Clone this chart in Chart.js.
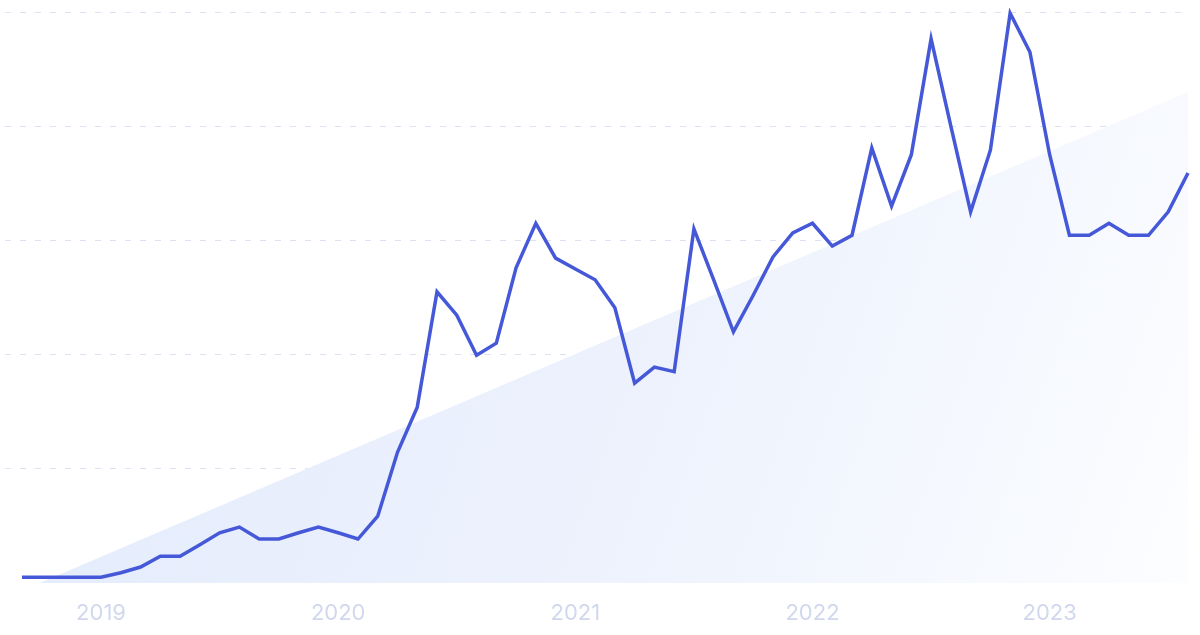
<!DOCTYPE html>
<html>
<head>
<meta charset="utf-8">
<script src="https://cdn.jsdelivr.net/npm/chart.js@4.4.1/dist/chart.umd.min.js"></script>
<style>
  html, body { margin: 0; padding: 0; background: #ffffff; }
  #wrap { width: 1200px; height: 635px; position: relative; }
</style>
</head>
<body>
<div id="wrap"><canvas id="c" width="1200" height="635"></canvas></div>
<script>
// Monthly series, Sep 2018 .. Aug 2023 (index 0 = Sep 2018)
const values = [
  1, 1, 1, 1, 1, 1.8, 2.8, 4.7, 4.7, 6.7,
  8.8, 9.8, 7.7, 7.7, 8.8, 9.8, 8.8, 7.7, 11.7, 22.9,
  30.8, 51.0, 46.9, 39.9, 42.0, 55.2, 63.0, 56.9, 55.0, 53.1,
  48.2, 35.0, 37.8, 37.0, 62.0, 53.1, 44.0, 50.4, 57.1, 61.3,
  63.0, 59.0, 60.9, 76.2, 66.0, 75.0, 95.3, 80.0, 65.0, 75.8,
  99.8, 93.0, 75.0, 60.9, 60.9, 63.0, 60.9, 60.9, 65.0, 71.8
];
// Year tick labels and their month index (January of each year)
const yearLabels = ['2019', '2020', '2021', '2022', '2023'];
const yearIndex = [4, 16, 28, 40, 52];
// Background trend wedge (start/end index and value)
const trendX = [0.9, 59];
const trendY = [0, 86];

const lineData = values.map((v, i) => ({ x: i, y: v }));
const trendData = trendX.map((x, i) => ({ x: x, y: trendY[i] }));

const ctx = document.getElementById('c').getContext('2d');
new Chart(ctx, {
  type: 'line',
  data: {
    datasets: [
      {
        data: lineData,
        borderColor: '#4559d8',
        borderWidth: 3.5,
        pointRadius: 0,
        tension: 0,
        fill: false,
        clip: false,
        borderJoinStyle: 'miter',
        order: 0
      },
      {
        data: trendData,
        borderWidth: 0,
        borderColor: 'rgba(0,0,0,0)',
        pointRadius: 0,
        fill: 'origin',
        order: 1,
        backgroundColor: (c) => {
          const a = c.chart.chartArea;
          if (!a) return 'rgba(230,237,251,1)';
          const g = c.chart.ctx.createLinearGradient(a.left, a.top + 150, a.right, a.bottom);
          g.addColorStop(0, 'rgba(226,234,251,1)');
          g.addColorStop(0.55, 'rgba(237,242,253,1)');
          g.addColorStop(1, 'rgba(252,253,255,1)');
          return g;
        }
      }
    ]
  },
  options: {
    responsive: false,
    animation: false,
    layout: { padding: { left: 5, right: 12, top: 12, bottom: 0 } },
    plugins: { legend: { display: false }, tooltip: { enabled: false } },
    scales: {
      x: {
        type: 'linear',
        min: -0.86,
        max: 59,
        grid: { display: false },
        border: { display: false },
        afterBuildTicks: (s) => { s.ticks = yearIndex.map(v => ({ value: v })); },
        afterFit: (s) => { s.height = 52; },
        ticks: {
          autoSkip: false,
          maxRotation: 0,
          padding: 9,
          color: '#d1d8ee',
          font: { family: 'Inter', size: 22 },
          callback: (v) => { const k = yearIndex.indexOf(v); return k >= 0 ? yearLabels[k] : ''; }
        }
      },
      y: {
        min: 0,
        max: 100,
        afterFit: (s) => { s.width = 0; },
        grid: {
          drawTicks: false,
          lineWidth: 1,
          color: (c) => c.tick && c.tick.value === 0 ? 'rgba(0,0,0,0)' : '#dbe1f2'
        },
        ticks: { display: false, stepSize: 20 },
        border: { display: false, dash: [6, 9] }
      }
    }
  }
});
</script>
</body>
</html>
